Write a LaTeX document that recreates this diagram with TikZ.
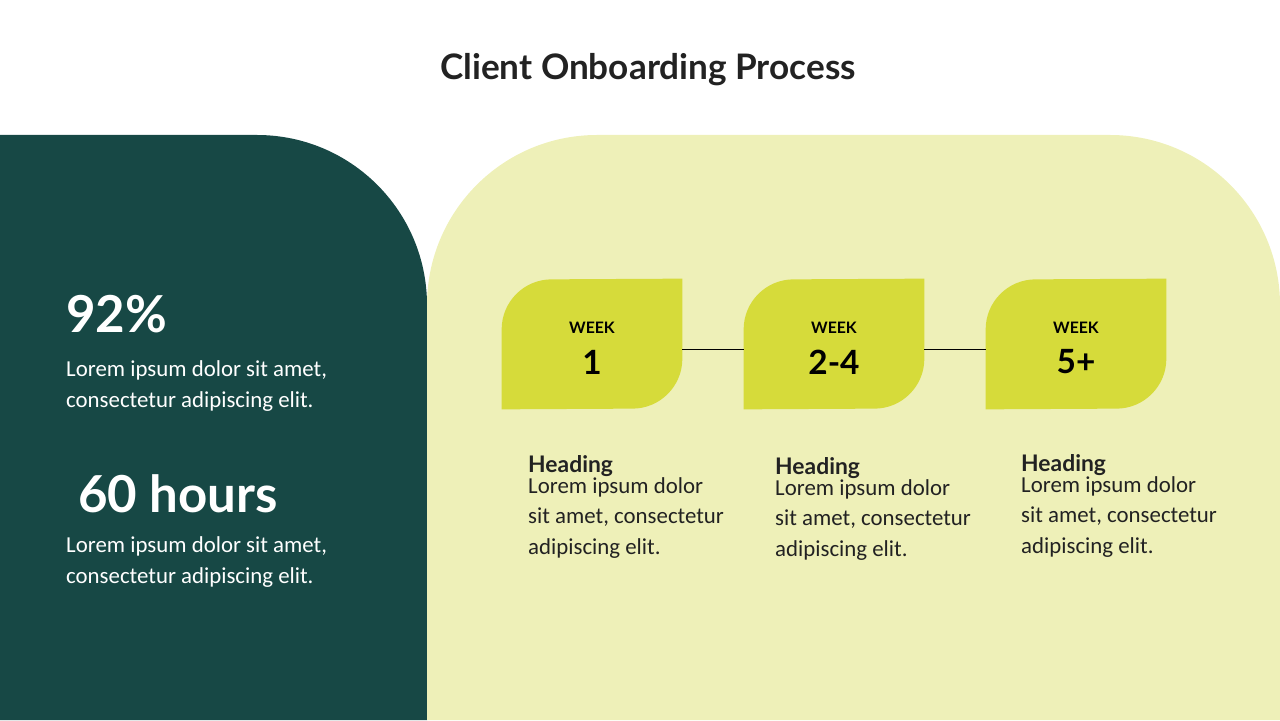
\documentclass[tikz,border=0pt]{standalone}
\usepackage{fontspec}
\setmainfont{Carlito}
\newfontfamily\headfont{Lato}
\usetikzlibrary{positioning}
\definecolor{darkgreen}{HTML}{174845}
\definecolor{paleyellow}{HTML}{EEF0B8}
\definecolor{limebox}{HTML}{D6DB3A}
\definecolor{inkgray}{HTML}{222222}

\begin{document}
\begin{tikzpicture}[
    week/.style={rectangle, minimum width=3.6cm, minimum height=2.6cm, inner sep=0pt},
    weeklabel/.style={font=\headfont\fontsize{9}{10}\selectfont\bfseries, text=black},
    weeknum/.style={font=\headfont\fontsize{19}{20}\selectfont\bfseries, text=black},
    stat/.style={font=\headfont\fontsize{29}{32}\selectfont\bfseries, text=white, anchor=west},
    body/.style={font=\fontsize{13}{17.5}\selectfont, align=left, anchor=west},
    heading/.style={font=\headfont\fontsize{13}{15}\selectfont\bfseries, text=inkgray, anchor=west},
    link/.style={thin, black}
]
\useasboundingbox (0,0) rectangle (25.6,14.4);

% Panels
\fill[darkgreen] (0,0) -- (0,11.7) -- (5.14,11.7) arc(90:0:3.4) -- (8.54,0) -- cycle;
\fill[paleyellow] (8.54,0) -- (8.54,8.3) arc(180:90:3.4) -- (22.2,11.7) arc(90:0:3.4) -- (25.6,0) -- cycle;

% Title
\node[font=\headfont\fontsize{20}{24}\selectfont\bfseries, text=inkgray] (title) at (12.96,13.0) {Client Onboarding Process};

% Stats
\node[stat] (pct) at (1.2,8.12) {92\%};
\node[body, text=white] (pcttxt) at (1.2,6.68) {Lorem ipsum dolor sit amet,\\consectetur adipiscing elit.};
\node[stat] (hours) at (1.44,4.52) {60 hours};
\node[body, text=white] (hourstxt) at (1.2,3.16) {Lorem ipsum dolor sit amet,\\consectetur adipiscing elit.};

% Week boxes
\foreach \name/\x/\num in {w1/11.84/1, w2/16.68/2-4, w3/21.52/5+}{
  \node[week] (\name) at (\x,7.52) {};
  \fill[limebox] (\name.south west) -- ++(0,1.6) arc(180:90:1) -- (\name.north east) -- ++(0,-1.6) arc(0:-90:1) -- cycle;
  \node[weeklabel] at ([yshift=0.32cm]\name.center) {WEEK};
  \node[weeknum] at ([yshift=-0.36cm]\name.center) {\num};
}
\draw[link] ([yshift=-0.1cm]w1.east) -- ([yshift=-0.1cm]w2.west);
\draw[link] ([yshift=-0.1cm]w2.east) -- ([yshift=-0.1cm]w3.west);

% Headings
\node[heading] (h1) at (10.44,5.08) {Heading};
\node[body, text=inkgray] (t1) at (10.44,4.04) {Lorem ipsum dolor\\sit amet, consectetur\\adipiscing elit.};
\node[heading] (h2) at (15.38,5.04) {Heading};
\node[body, text=inkgray] (t2) at (15.38,4.0) {Lorem ipsum dolor\\sit amet, consectetur\\adipiscing elit.};
\node[heading] (h3) at (20.3,5.1) {Heading};
\node[body, text=inkgray] (t3) at (20.3,4.06) {Lorem ipsum dolor\\sit amet, consectetur\\adipiscing elit.};
\end{tikzpicture}
\end{document}
